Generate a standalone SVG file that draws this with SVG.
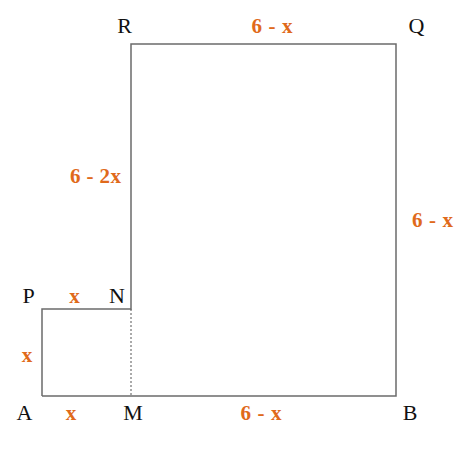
<svg xmlns="http://www.w3.org/2000/svg" width="474" height="449" viewBox="0 0 474 449">
<style>
.ln{fill:none;stroke:#6b6b6b;stroke-width:1.5}
.dash{fill:none;stroke:#555;stroke-width:1;stroke-dasharray:2 2}
.pt{font-family:'Liberation Serif','DejaVu Serif',serif;font-size:22px;fill:#111;text-anchor:middle}
.lb{font-family:'Liberation Serif','DejaVu Serif',serif;font-size:21px;font-weight:bold;fill:#e06a1b;text-anchor:middle}
</style>
<rect width="474" height="449" fill="#fff"/>
<g id="connectors">
<path class="ln" d="M42,396 V309 H131 V44 H396 V396 H42"/>
<line class="dash" x1="131" y1="309" x2="131" y2="396"/>
</g>
<g id="A"><text class="pt" x="24.5" y="420">A</text></g>
<g id="M"><text class="pt" x="133" y="420">M</text></g>
<g id="B"><text class="pt" x="410" y="420">B</text></g>
<g id="P"><text class="pt" x="28.5" y="303">P</text></g>
<g id="N"><text class="pt" x="117" y="303">N</text></g>
<g id="R"><text class="pt" x="124.5" y="33">R</text></g>
<g id="Q"><text class="pt" x="416.5" y="33">Q</text></g>
<g id="labels">
<text class="lb" x="74.5" y="303">x</text>
<text class="lb" x="71" y="420">x</text>
<text class="lb" x="27" y="362">x</text>
<text class="lb" x="272" y="33" textLength="41">6 - x</text>
<text class="lb" x="432.5" y="227" textLength="41">6 - x</text>
<text class="lb" x="261" y="420" textLength="41">6 - x</text>
<text class="lb" x="95.5" y="183" textLength="51">6 - 2x</text>
</g>
</svg>
